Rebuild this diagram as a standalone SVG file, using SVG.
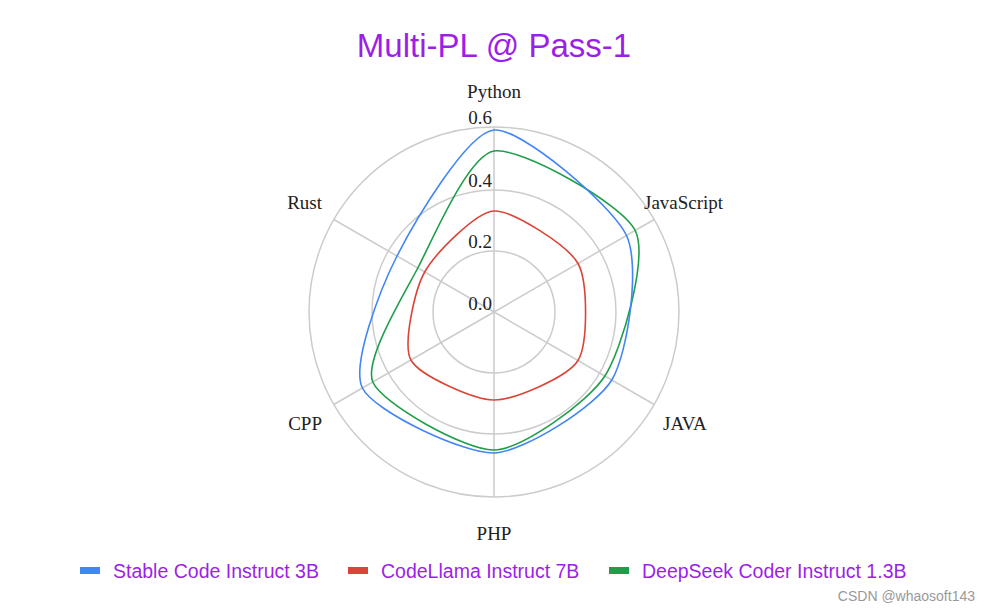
<svg xmlns="http://www.w3.org/2000/svg" width="990" height="612" viewBox="0 0 990 612">
<style>
.grid{fill:none;stroke:#cccccc;stroke-width:1.5}
.ax{font-family:"Liberation Serif",serif;font-size:19px;fill:#222}
.lg{font-family:"Liberation Sans",Arial,sans-serif;font-size:19.5px;fill:#9b1fe8}
.s{fill:none;stroke-width:1.6}
</style>
<rect width="990" height="612" fill="#fff"/>
<text x="494" y="57" text-anchor="middle" font-family="Liberation Sans,Arial,sans-serif" font-size="33" fill="#9b1fe8">Multi-PL @ Pass-1</text>
<g id="grid">
<circle class="grid" cx="494" cy="312" r="61"/>
<circle class="grid" cx="494" cy="312" r="122"/>
<circle class="grid" cx="494" cy="312" r="185"/>
<path class="grid" d="M494,312V127M494,312L654.2,219.5M494,312L654.2,404.5M494,312V497M494,312L333.8,404.5M494,312L333.8,219.5"/>
</g>
<g id="ticks" class="ax">
<text x="480" y="124" text-anchor="middle">0.6</text>
<text x="480" y="187" text-anchor="middle">0.4</text>
<text x="480" y="248" text-anchor="middle">0.2</text>
<text x="480" y="310" text-anchor="middle">0.0</text>
</g>
<g id="labels" class="ax">
<text x="494" y="98" text-anchor="middle">Python</text>
<text x="644" y="209">JavaScript</text>
<text x="663" y="430">JAVA</text>
<text x="494" y="540" text-anchor="middle">PHP</text>
<text x="322" y="430" text-anchor="end">CPP</text>
<text x="322" y="209" text-anchor="end">Rust</text>
</g>
<g id="connectors">
<path id="red" class="s" stroke="#db4437" d="M494,211 C512.4,210 567.9,245.6 578,263.5 C588.1,281.4 588.1,344.1 578,360.5 C567.9,376.9 514,400.1 494,400 C474,399.9 419.2,375.4 410.9,360 C402.6,344.6 414.7,289.9 424.7,272 C434.7,254.1 475.6,212 494,211 Z"/>
<path id="green" class="s" stroke="#1f9e4a" d="M494,151 C520.1,146.5 621.9,203.5 635.2,230.5 C648.5,257.5 621.8,349.7 604.9,376 C588,402.3 521.8,449.3 494,450 C466.2,450.7 381.9,403.8 372.8,382 C363.7,360.2 403.3,295.7 417.8,268 C432.3,240.3 467.9,155.5 494,151 Z"/>
<path id="blue" class="s" stroke="#4285f4" d="M494,130 C521.5,127.5 612.3,205.5 626.5,235.5 C640.7,265.5 627.7,353.9 611.8,380 C595.9,406.1 523.9,452 494,453 C464.1,454 374,411.6 362.4,388 C350.8,364.4 381.2,287 397,256 C412.8,225 466.5,132.5 494,130 Z"/>
</g>
<g id="legend">
<rect x="80" y="567" width="20" height="7" fill="#4285f4"/>
<text class="lg" x="113" y="578">Stable Code Instruct 3B</text>
<rect x="348" y="567" width="20" height="7" fill="#db4437"/>
<text class="lg" x="381" y="578">CodeLlama Instruct 7B</text>
<rect x="609" y="567" width="20" height="7" fill="#1f9e4a"/>
<text class="lg" x="642" y="578">DeepSeek Coder Instruct 1.3B</text>
</g>
<text x="975" y="601" text-anchor="end" font-family="Liberation Sans,Arial,sans-serif" font-size="14" fill="#999">CSDN @whaosoft143</text>
</svg>
